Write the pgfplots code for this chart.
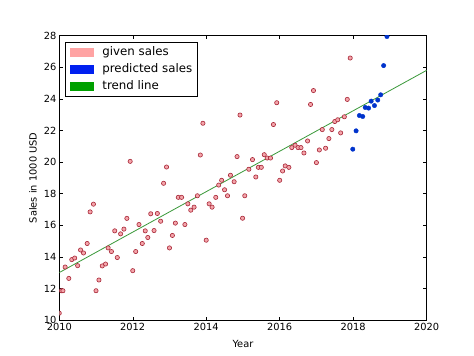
\documentclass[border=0pt]{standalone}
\usepackage{pgfplots}
\pgfplotsset{compat=1.18}
\usepackage{fontspec}
\setmainfont{DejaVu Sans}
\definecolor{ptfill}{HTML}{F4A4AA}
\definecolor{ptedge}{HTML}{A82838}
\definecolor{predblue}{HTML}{0033CC}
\definecolor{trendgreen}{HTML}{3C9A3C}
\definecolor{legpink}{HTML}{FFA3A3}
\definecolor{legblue}{HTML}{0020F0}
\definecolor{leggreen}{HTML}{00A000}

\pgfplotstableread{
year val
2010.00 10.43
2010.06 11.85
2010.10 11.85
2010.16 13.35
2010.26 12.63
2010.34 13.82
2010.42 13.92
2010.50 13.44
2010.58 14.43
2010.66 14.24
2010.76 14.84
2010.84 16.84
2010.93 17.33
2011.00 11.85
2011.08 12.53
2011.17 13.42
2011.26 13.54
2011.33 14.56
2011.42 14.33
2011.51 15.64
2011.58 13.95
2011.67 15.45
2011.76 15.75
2011.84 16.43
2011.93 20.04
2012.00 13.12
2012.08 14.33
2012.17 16.04
2012.26 14.84
2012.34 15.64
2012.41 15.22
2012.49 16.72
2012.58 15.66
2012.67 16.74
2012.76 16.25
2012.84 18.65
2012.92 19.68
2013.00 14.56
2013.08 15.35
2013.16 16.13
2013.24 17.76
2013.33 17.76
2013.42 16.04
2013.50 17.35
2013.58 16.95
2013.67 17.14
2013.76 17.86
2013.84 20.44
2013.91 22.45
2014.00 15.05
2014.08 17.35
2014.16 17.14
2014.26 17.76
2014.34 18.54
2014.42 18.84
2014.50 18.24
2014.58 17.86
2014.66 19.16
2014.76 18.75
2014.84 20.34
2014.92 22.97
2014.99 16.44
2015.05 17.86
2015.16 19.54
2015.26 20.15
2015.35 19.05
2015.42 19.66
2015.50 19.66
2015.58 20.46
2015.66 20.25
2015.75 20.25
2015.83 22.37
2015.92 23.75
2016.00 18.84
2016.08 19.43
2016.15 19.75
2016.25 19.66
2016.33 20.91
2016.42 21.06
2016.50 20.91
2016.58 20.91
2016.66 20.57
2016.76 21.33
2016.84 23.64
2016.92 24.52
2017.00 19.96
2017.08 20.76
2017.16 22.05
2017.25 20.87
2017.34 21.48
2017.42 22.05
2017.50 22.56
2017.58 22.67
2017.66 21.84
2017.76 22.86
2017.84 23.96
2017.92 26.58
}\given

\pgfplotstableread{
year val
2017.99 20.81
2018.08 21.97
2018.17 22.94
2018.26 22.88
2018.33 23.45
2018.42 23.41
2018.49 23.85
2018.58 23.57
2018.67 23.92
2018.75 24.25
2018.83 26.10
2018.92 27.94
}\predicted

\begin{document}
\begin{tikzpicture}
\path[use as bounding box] (-72.3pt,-43.4pt) rectangle (505.9pt,390.3pt);
\begin{axis}[
  at={(0,0)}, anchor=south west,
  scale only axis, width=448.1pt, height=346.9pt,
  xmin=2010, xmax=2020, ymin=10, ymax=28,
  xtick={2010,2012,...,2020}, ytick={10,12,...,28},
  tick align=inside, tick pos=both, major tick length=4pt,
  every tick/.style={black, line width=0.5pt},
  axis line style={black, line width=1pt},
  /pgf/number format/assume math mode=true,
  x tick label style={/pgf/number format/1000 sep={}, /pgf/number format/fixed},
  ticklabel style={font=\fontsize{12}{14}\selectfont},
  xlabel={Year}, ylabel={Sales in 1000 USD},
  label style={font=\fontsize{12}{14}\selectfont},
  xlabel style={at={(axis description cs:0.5,-0.0836)}, anchor=center},
  ylabel style={at={(axis description cs:-0.0714,0.5)}, anchor=center},
  clip marker paths=true,
  legend cell align=left,
  legend style={at={(0,1)}, anchor=north west, xshift=7.3pt, yshift=-8.2pt,
    draw=black, line width=1pt, fill=white,
    font=\fontsize{14.4}{17}\selectfont,
    inner xsep=5pt, inner ysep=5.3pt, row sep=6.7pt,
    nodes={inner xsep=1pt, inner ysep=0pt, text height=10.5pt, text depth=3.5pt},
    /tikz/every odd column/.append style={column sep=9pt}},
]
\addlegendimage{legend image code/.code={\fill[legpink] (0pt,-5pt) rectangle (28.8pt,5pt);}}
\addlegendimage{legend image code/.code={\fill[legblue] (0pt,-5pt) rectangle (28.8pt,5pt);}}
\addlegendimage{legend image code/.code={\fill[leggreen] (0pt,-5pt) rectangle (28.8pt,5pt);}}
\addplot[forget plot, trendgreen, line width=1pt] coordinates {(2010,13.0) (2020,25.8)};
\addplot[forget plot, only marks, mark=*, mark size=2.6pt,
  mark options={fill=ptfill, draw=ptedge, line width=0.75pt}] table[x=year, y=val] {\given};
\addplot[forget plot, only marks, mark=*, mark size=2.7pt,
  mark options={fill=predblue, draw=predblue, line width=0.5pt}] table[x=year, y=val] {\predicted};
\legend{given sales, predicted sales, trend line}
\end{axis}
\end{tikzpicture}
\end{document}
